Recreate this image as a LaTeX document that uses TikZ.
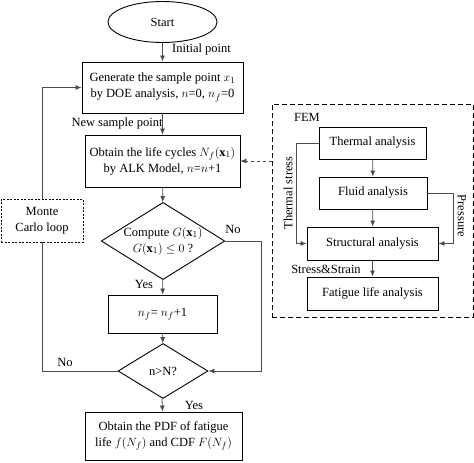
\documentclass[tikz,border=0pt]{standalone}
\usepackage{fontspec}
\setmainfont{Liberation Serif}
\usetikzlibrary{shapes.geometric,arrows.meta}
\tikzset{
    box/.style={draw, line width=0.9pt, align=center, inner sep=0pt},
    decision/.style={draw, diamond, line width=0.9pt, align=center, inner sep=0pt, aspect=1.6},
    arr/.style={-{Latex[length=6pt,width=5pt]}, line width=0.8pt, black!70},
    lbl/.style={inner sep=0pt}
}
\begin{document}
\begin{tikzpicture}[x=1pt, y=-1pt, every node/.append style={font=\fontsize{12.5}{16}\selectfont}]
    \useasboundingbox (0,0) rectangle (474,463);

    % main flow
    \node[box, ellipse, minimum width=109, minimum height=41] (start) at (162.5,22) {Start};
    \node[box, minimum width=161, minimum height=51] (generate) at (162.5,87.5) {Generate the sample point $x_1$\\by DOE analysis, $n$=0, $n_f$=0};
    \node[box, minimum width=155, minimum height=52] (obtain) at (162.5,161) {Obtain the life cycles $N_f(\mathbf{x}_1)$\\by ALK Model, $n$=$n$+1};
    \node[decision, minimum width=120, minimum height=75] (compute) at (163,241) {Compute $G(\mathbf{x}_1)$\\$G(\mathbf{x}_1)\leq 0$ ?};
    \node[box, minimum width=109, minimum height=38] (update) at (162.5,314) {$n_f$= $n_f$+1};
    \node[decision, minimum width=90, minimum height=55] (check) at (163,371) {n>N?};
    \node[box, minimum width=157, minimum height=48] (result) at (163.5,436) {Obtain the PDF of fatigue\\life $f(N_f)$ and CDF $F(N_f)$};

    \draw[arr] (start) -- (generate);
    \draw[arr] (generate) -- (obtain);
    \draw[arr] (obtain) -- (compute);
    \draw[arr] (compute) -- (update);
    \draw[arr] (update) -- (check);
    \draw[arr] ([xshift=-1pt]check.south) -- ([xshift=-1pt]result.north);
    \draw[arr] (compute.east) -- ++(36,0) |- (check.east);

    % Monte Carlo loop
    \node[box, dash pattern=on 2pt off 1.5pt, line width=0.7pt, fill=white, minimum width=82, minimum height=43] (mcloop) at (42,220.5) {Monte\\Carlo loop};
    \draw[arr, -] (check.west) -| (mcloop.south);
    \draw[arr] (mcloop.north) |- (generate.west);

    \node[lbl, anchor=west] at (172,49) {Initial point};
    \node[lbl] at (117,123) {New sample point};
    \node[lbl] at (233,229) {No};
    \node[lbl] at (144,284) {Yes};
    \node[lbl] at (194,405) {Yes};
    \node[lbl] at (65,362) {No};

    % FEM part
    \node[draw, line width=0.9pt, dash pattern=on 5pt off 3pt, minimum width=201, minimum height=213] (fem) at (372.5,210.5) {};
    \node[lbl] at (307,117) {FEM};
    \node[box, minimum width=107, minimum height=32] (thermal) at (372.5,143) {Thermal analysis};
    \node[box, minimum width=108, minimum height=32] (fluid) at (373,193) {Fluid analysis};
    \node[box, minimum width=131, minimum height=33] (structural) at (372.5,243.5) {Structural analysis};
    \node[box, minimum width=131, minimum height=33] (fatigue) at (372.5,293.5) {Fatigue life analysis};

    \draw[arr] (thermal) -- (fluid);
    \draw[arr] (fluid) -- (structural);
    \draw[arr] (structural) -- (fatigue);
    \draw[arr] (thermal.west) -- ++(-22,0) |- (structural.west);
    \draw[arr] (fluid.east) -- ++(26,0) |- (structural.east);
    \draw[arr, dashed] (fem.west |- obtain.east) -- (obtain.east);

    \node[lbl, rotate=90] at (288,193) {Thermal stress};
    \node[lbl, rotate=-90] at (462,216) {Pressure};
    \node[lbl] at (326,269) {Stress\&Strain};
\end{tikzpicture}
\end{document}
